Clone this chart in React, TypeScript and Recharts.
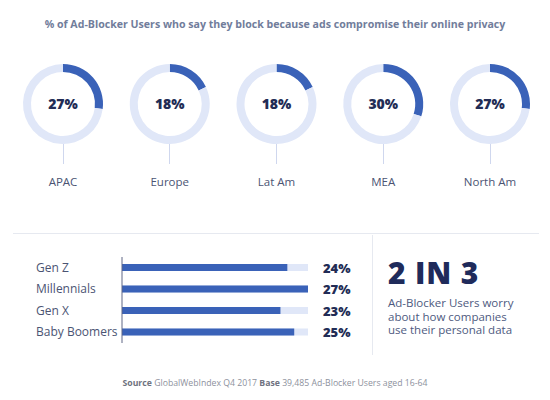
import { PieChart, Pie, Cell, BarChart, Bar, XAxis, YAxis } from 'recharts'

const regions = ['APAC', 'Europe', 'Lat Am', 'MEA', 'North Am']
const regionShares = [27, 18, 18, 30, 27]

const generations = ['Gen Z', 'Millennials', 'Gen X', 'Baby Boomers']
const generationShares = [24, 27, 23, 25]

const FONT = '"Open Sans", Lato, sans-serif'
const DARK_BLUE = '#3a62b8'
const LIGHT_BLUE = '#e0e7f8'
const NAVY = '#222c55'
const LABEL_GREY = '#4b5473'

const DONUT_X0 = 63
const DONUT_STEP = 106.75
const DONUT_Y = 104

const barData = generations.map((name, i) => ({ name, value: generationShares[i] }))
const barMax = Math.max(...generationShares)

function GenTick(props: any) {
  const { y, payload } = props
  return (
    <text x={36} y={y} dy={4} textAnchor="start" fill={LABEL_GREY} fontSize={12} fontFamily={FONT}>
      {payload.value}
    </text>
  )
}

function ValueTick(props: any) {
  const { x, y, payload } = props
  const share = generationShares[generations.indexOf(payload.value)]
  return (
    <text x={x} y={y} dy={5} textAnchor="start" fill={NAVY} fontSize={13} fontWeight={800} fontFamily={FONT}>
      {share}%
    </text>
  )
}

export default function App() {
  return (
    <div
      style={{
        position: 'absolute',
        left: 0,
        top: 0,
        width: 550,
        height: 400,
        background: '#ffffff',
        fontFamily: FONT,
        overflow: 'hidden',
      }}
    >
      {/* title */}
      <div
        style={{
          position: 'absolute',
          top: 17,
          left: 0,
          width: 550,
          textAlign: 'center',
          fontSize: 10.6,
          fontWeight: 700,
          color: '#717d9b',
        }}
      >
        % of Ad-Blocker Users who say they block because ads compromise their online privacy
      </div>

      {/* donuts */}
      <div style={{ position: 'absolute', left: 0, top: 0 }}>
        <PieChart width={550} height={200} margin={{ top: 0, right: 0, bottom: 0, left: 0 }}>
          {regions.map((region, i) => (
            <Pie
              key={region}
              data={[
                { name: region, value: regionShares[i] },
                { name: 'rest', value: 100 - regionShares[i] },
              ]}
              dataKey="value"
              cx={DONUT_X0 + i * DONUT_STEP}
              cy={DONUT_Y}
              innerRadius={32}
              outerRadius={40}
              startAngle={90}
              endAngle={-270}
              stroke="none"
              isAnimationActive={false}
            >
              <Cell fill={DARK_BLUE} />
              <Cell fill={LIGHT_BLUE} />
            </Pie>
          ))}
        </PieChart>
      </div>

      {regions.map((region, i) => {
        const cx = DONUT_X0 + i * DONUT_STEP
        return (
          <div key={region}>
            <div
              style={{
                position: 'absolute',
                left: cx - 40,
                width: 80,
                top: DONUT_Y - 10,
                textAlign: 'center',
                fontSize: 14,
                fontWeight: 800,
                color: NAVY,
                lineHeight: '20px',
              }}
            >
              {regionShares[i]}%
            </div>
            <div
              style={{
                position: 'absolute',
                left: cx - 0.5,
                top: 144,
                width: 1,
                height: 20,
                background: '#cfd7ee',
              }}
            />
            <div
              style={{
                position: 'absolute',
                left: cx - 50,
                width: 100,
                top: 174,
                textAlign: 'center',
                fontSize: 11.5,
                color: LABEL_GREY,
                lineHeight: '16px',
              }}
            >
              {region}
            </div>
          </div>
        )
      })}

      {/* separators */}
      <div style={{ position: 'absolute', left: 13, top: 233, width: 526, height: 1, background: '#e6e9f0' }} />
      <div style={{ position: 'absolute', left: 372, top: 235, width: 1, height: 120, background: '#e6e9f0' }} />

      {/* generation bars */}
      <div style={{ position: 'absolute', left: 0, top: 240 }}>
        <BarChart
          width={372}
          height={120}
          data={barData}
          layout="vertical"
          margin={{ top: 17, right: 4, bottom: 17, left: 32 }}
          barSize={7}
        >
          <XAxis type="number" domain={[0, barMax]} hide />
          <YAxis
            yAxisId="left"
            type="category"
            dataKey="name"
            width={90}
            interval={0}
            axisLine={{ stroke: '#5f6785', strokeWidth: 1 }}
            tickLine={false}
            tick={<GenTick />}
          />
          <YAxis
            yAxisId="right"
            orientation="right"
            type="category"
            dataKey="name"
            width={60}
            interval={0}
            axisLine={false}
            tickLine={false}
            tickMargin={9}
            tick={<ValueTick />}
          />
          <Bar
            yAxisId="left"
            dataKey="value"
            fill={DARK_BLUE}
            background={{ fill: LIGHT_BLUE }}
            isAnimationActive={false}
          />
        </BarChart>
      </div>

      {/* headline stat */}
      <div
        style={{
          position: 'absolute',
          left: 388,
          top: 256,
          fontSize: 30,
          fontWeight: 800,
          color: '#1f2b5b',
          lineHeight: '34px',
          letterSpacing: 0.8,
        }}
      >
        2 IN 3
      </div>
      <div
        style={{
          position: 'absolute',
          left: 388,
          top: 296,
          fontSize: 11.5,
          color: '#4e5a80',
          lineHeight: '13.5px',
          width: 160,
        }}
      >
        Ad-Blocker Users worry
        <br />
        about how companies
        <br />
        use their personal data
      </div>

      {/* source */}
      <div
        style={{
          position: 'absolute',
          left: 0,
          top: 377,
          width: 550,
          textAlign: 'center',
          fontSize: 8.7,
          color: '#8d919d',
        }}
      >
        <b style={{ color: '#6f7380' }}>Source</b> GlobalWebIndex Q4 2017 <b style={{ color: '#6f7380' }}>Base</b> 39,485
        Ad-Blocker Users aged 16-64
      </div>
    </div>
  )
}
